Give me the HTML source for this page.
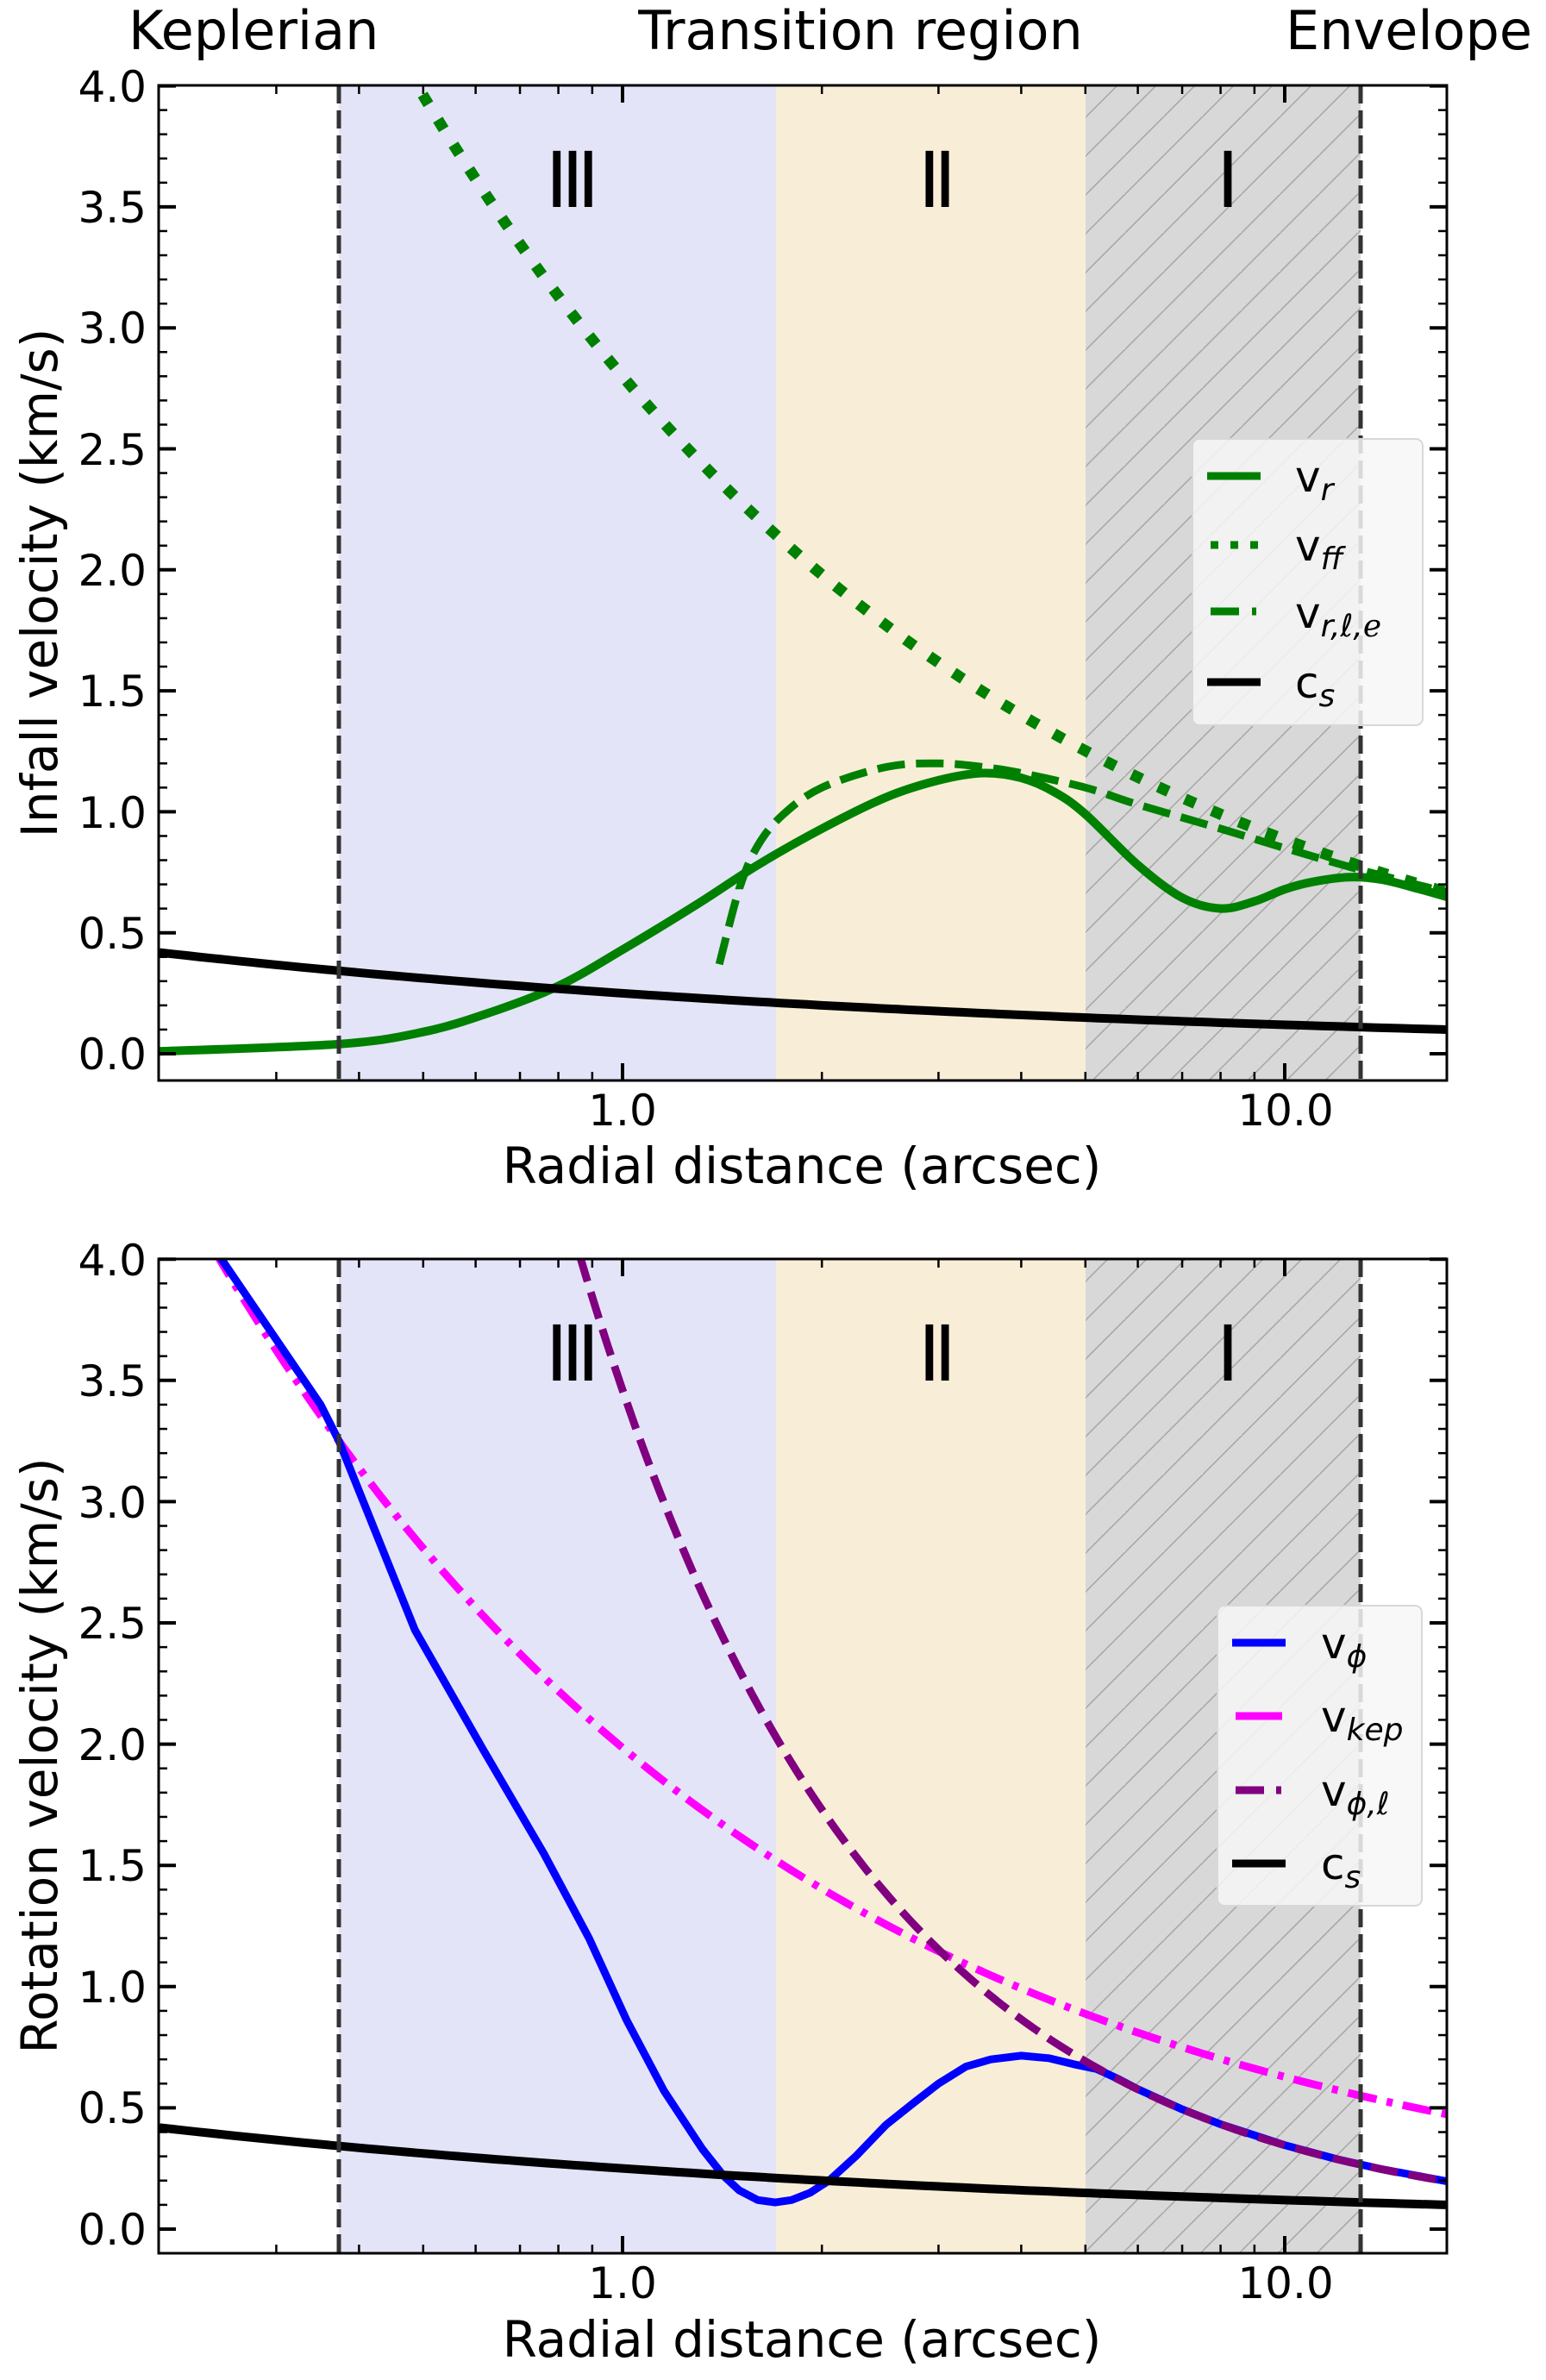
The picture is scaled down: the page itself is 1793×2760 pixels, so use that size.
<!DOCTYPE html>
<html><head><meta charset="utf-8">
<style>
html,body{margin:0;padding:0;background:#fff;}
svg{display:block;font-family:"DejaVu Sans","Liberation Sans",sans-serif;}
</style></head>
<body>
<svg id="s" width="1793" height="2760" viewBox="0 0 1793 2760" xmlns="http://www.w3.org/2000/svg">
<defs>
<clipPath id="c1"><rect x="184" y="99" width="1494" height="1154"/></clipPath>
<clipPath id="c2"><rect x="184" y="1460" width="1494" height="1153"/></clipPath>
<pattern id="hatch" patternUnits="userSpaceOnUse" width="45" height="45">
<path d="M-5,50 L50,-5 M-50,50 L5,-5 M40,95 L95,40" stroke="#a8a8a8" stroke-width="1.6"/>
</pattern>
</defs>
<g id="g1" clip-path="url(#c1)"></g>
<g id="g2" clip-path="url(#c2)"></g>
<g id="ticks"></g>

<g font-size="62" fill="#000">
<text x="149" y="57">Keplerian</text>
<text x="998" y="57" text-anchor="middle">Transition region</text>
<text x="1777" y="57" text-anchor="end">Envelope</text>
</g>

<g font-size="89" fill="#000" text-anchor="middle" letter-spacing="-8">
<text x="660" y="240">III</text><text x="1083" y="240">II</text><text x="1420" y="240">I</text>
<text x="660" y="1601">III</text><text x="1083" y="1601">II</text><text x="1420" y="1601">I</text>
</g>

<g font-size="50" fill="#000" text-anchor="end">
<text x="170" y="1240">0.0</text><text x="170" y="1100">0.5</text><text x="170" y="960">1.0</text>
<text x="170" y="819">1.5</text><text x="170" y="679">2.0</text><text x="170" y="539">2.5</text>
<text x="170" y="398">3.0</text><text x="170" y="258">3.5</text><text x="170" y="118">4.0</text>
<text x="170" y="2603">0.0</text><text x="170" y="2462">0.5</text><text x="170" y="2322">1.0</text>
<text x="170" y="2181">1.5</text><text x="170" y="2041">2.0</text><text x="170" y="1900">2.5</text>
<text x="170" y="1760">3.0</text><text x="170" y="1619">3.5</text><text x="170" y="1479">4.0</text>
</g>
<g font-size="50" fill="#000" text-anchor="middle">
<text x="722" y="1305">1.0</text><text x="1491" y="1305">10.0</text>
<text x="722" y="2665">1.0</text><text x="1491" y="2665">10.0</text>
</g>
<g font-size="58" fill="#000" text-anchor="middle">
<text x="930" y="1372">Radial distance (arcsec)</text>
<text x="930" y="2733">Radial distance (arcsec)</text>
<text transform="translate(66,676) rotate(-90)">Infall velocity (km/s)</text>
<text transform="translate(66,2036) rotate(-90)">Rotation velocity (km/s)</text>
</g>

<g>
<rect x="1383" y="509" width="267" height="332" rx="8" fill="#f7f7f7" fill-opacity="0.85" stroke="#d8d8d8" stroke-width="2"/>
<line x1="1400" y1="552" x2="1462" y2="552" stroke="#008000" stroke-width="9"/>
<line x1="1404" y1="632" x2="1462" y2="632" stroke="#008000" stroke-width="9" stroke-dasharray="9 14"/>
<line x1="1404" y1="709" x2="1457" y2="709" stroke="#008000" stroke-width="9" stroke-dasharray="33 15 6 100"/>
<line x1="1400" y1="791" x2="1462" y2="791" stroke="#000" stroke-width="9"/>
<g font-size="50" fill="#000">
<text x="1502" y="570">v<tspan font-size="36" font-style="italic" dy="10">r</tspan></text>
<text x="1502" y="650">v<tspan font-size="36" font-style="italic" dy="10">ff</tspan></text>
<text x="1502" y="728">v<tspan font-size="36" font-style="italic" dy="10">r,ℓ,ℯ</tspan></text>
<text x="1502" y="809">c<tspan font-size="36" font-style="italic" dy="10">s</tspan></text>
</g>
</g>
<g>
<rect x="1412" y="1862" width="237" height="348" rx="8" fill="#f7f7f7" fill-opacity="0.85" stroke="#d8d8d8" stroke-width="2"/>
<line x1="1429" y1="1905" x2="1491" y2="1905" stroke="#0000ff" stroke-width="9"/>
<line x1="1433" y1="1990" x2="1487" y2="1990" stroke="#ff00ff" stroke-width="9"/>
<line x1="1433" y1="2076" x2="1487" y2="2076" stroke="#800080" stroke-width="9" stroke-dasharray="33 14 6 100"/>
<line x1="1429" y1="2161" x2="1491" y2="2161" stroke="#000" stroke-width="9"/>
<g font-size="50" fill="#000">
<text x="1532" y="1923">v<tspan font-size="36" font-style="italic" dy="10">ϕ</tspan></text>
<text x="1532" y="2008">v<tspan font-size="36" font-style="italic" dy="10">kep</tspan></text>
<text x="1532" y="2094">v<tspan font-size="36" font-style="italic" dy="10">ϕ,ℓ</tspan></text>
<text x="1532" y="2179">c<tspan font-size="36" font-style="italic" dy="10">s</tspan></text>
</g>
</g>
</svg>
<script>
(function(){
var NS="http://www.w3.org/2000/svg";
function add(p,t,a){var e=document.createElementNS(NS,t);for(var k in a)e.setAttribute(k,a[k]);p.appendChild(e);return e;}
function X(r){return 722+768*Math.log10(r);}
var P=[{g:document.getElementById('g1'),y0:1222,k:280.6,top:99,bot:1253},
       {g:document.getElementById('g2'),y0:2585,k:281.2,top:1460,bot:2613}];
function Y(p,v){return p.y0-p.k*v;}
function fn(p,f,r0,r1,n){var s='';for(var i=0;i<=n;i++){var lr=Math.log10(r0)+(Math.log10(r1)-Math.log10(r0))*i/n;var r=Math.pow(10,lr);s+=(i?'L':'M')+X(r).toFixed(1)+','+Y(p,f(r)).toFixed(1);}return s;}
function lin(p,pts){return pts.map(function(a,i){return (i?'L':'M')+X(a[0]).toFixed(1)+','+Y(p,a[1]).toFixed(1);}).join('');}
function spl(p,pts){var q=pts.map(function(a){return [X(a[0]),Y(p,a[1])];});
 var s='M'+q[0][0].toFixed(1)+','+q[0][1].toFixed(1);
 for(var i=0;i<q.length-1;i++){var a=q[i-1]||q[i],b=q[i],c=q[i+1],d=q[i+2]||c;
  var c1=[b[0]+(c[0]-a[0])/6,b[1]+(c[1]-a[1])/6],c2=[c[0]-(d[0]-b[0])/6,c[1]-(d[1]-b[1])/6];
  s+='C'+c1[0].toFixed(1)+','+c1[1].toFixed(1)+' '+c2[0].toFixed(1)+','+c2[1].toFixed(1)+' '+c[0].toFixed(1)+','+c[1].toFixed(1);}
 return s;}
P.forEach(function(p,idx){
 var g=p.g,h=p.bot-p.top;
 add(g,'rect',{x:393,y:p.top,width:507,height:h,fill:'#e4e4f8'});
 add(g,'rect',{x:900,y:p.top,width:359,height:h,fill:'#f8eed8'});
 add(g,'rect',{x:1259,y:p.top,width:319,height:h,fill:'#d8d8d8'});
 add(g,'rect',{x:1259,y:p.top,width:319,height:h,fill:'url(#hatch)'});
 var cs=function(r){return 0.25*Math.pow(r,-0.32);};
 if(idx==0){
  add(g,'path',{d:fn(p,function(r){return 2.80/Math.sqrt(r);},0.2,18,200),fill:'none',stroke:'#008000','stroke-width':13,'stroke-dasharray':'13 21'});
  add(g,'path',{d:spl(p,[[1.40,0.37],[1.5,0.68],[1.6,0.86],[1.75,0.99],[2.0,1.1],[2.5,1.185],[3.0,1.2],[3.5,1.185],[4.0,1.16],[5.0,1.10],[6.0,1.03],[8.0,0.93],[10,0.85],[13,0.76],[18,0.66]]),fill:'none',stroke:'#008000','stroke-width':9,'stroke-dasharray':'32 13'});
  add(g,'path',{d:spl(p,[[0.2,0.01],[0.373,0.04],[0.5,0.09],[0.63,0.17],[0.8,0.28],[1.0,0.43],[1.3,0.62],[1.6,0.78],[2.0,0.93],[2.5,1.06],[3.0,1.13],[3.5,1.16],[4.0,1.14],[4.5,1.08],[5.0,0.99],[6.0,0.78],[7.0,0.645],[8.0,0.60],[9.0,0.63],[10,0.68],[11,0.71],[12.5,0.73],[14,0.72],[16,0.68],[18,0.64]]),fill:'none',stroke:'#008000','stroke-width':10});
 } else {
  add(g,'path',{d:fn(p,function(r){return 1.985/Math.sqrt(r);},0.2,18,200),fill:'none',stroke:'#ff00ff','stroke-width':9,'stroke-dasharray':'34 12 7 12'});
  add(g,'path',{d:lin(p,[[0.22,4.4],[0.248,4.0],[0.35,3.4],[0.373,3.25],[0.486,2.47],[0.615,1.98],[0.76,1.55],[0.89,1.2],[1.015,0.86],[1.155,0.57],[1.32,0.33],[1.42,0.22],[1.5,0.16],[1.6,0.12],[1.7,0.11],[1.8,0.12],[1.92,0.15],[2.05,0.2],[2.25,0.3],[2.5,0.43],[2.75,0.52],[3.0,0.6],[3.3,0.67],[3.6,0.70],[4.0,0.715],[4.4,0.705],[4.8,0.68],[5.2,0.66],[5.6,0.62],[6.0,0.577],[7,0.494],[8,0.4325],[10,0.346],[12,0.288],[14,0.247],[18,0.192]]),fill:'none',stroke:'#0000ff','stroke-width':9,'stroke-linejoin':'round'});
  add(g,'path',{d:fn(p,function(r){return 3.46/r;},0.8,18,200),fill:'none',stroke:'#800080','stroke-width':9,'stroke-dasharray':'32 13'});
 }
 add(g,'path',{d:fn(p,cs,0.2,18,100),fill:'none',stroke:'#000','stroke-width':10});
 [393,1578].forEach(function(x){add(g,'line',{x1:x,y1:p.top,x2:x,y2:p.bot,stroke:'#333','stroke-width':5,'stroke-dasharray':'21 8'});});
 var T=document.getElementById('ticks');
 for(var i=0;i<=40;i++){var y=Y(p,i/10);if(y<p.top-1||y>p.bot)continue;var L=(i%5==0)?20:10,w=(i%5==0)?4:2.5;
  add(T,'line',{x1:184,y1:y,x2:184+L,y2:y,stroke:'#000','stroke-width':w});
  add(T,'line',{x1:1678,y1:y,x2:1678-L,y2:y,stroke:'#000','stroke-width':w});}
 var xs=[0.3,0.4,0.5,0.6,0.7,0.8,0.9,2,3,4,5,6,7,8,9];
 xs.forEach(function(r){var x=X(r);add(T,'line',{x1:x,y1:p.bot,x2:x,y2:p.bot-10,stroke:'#000','stroke-width':2.5});add(T,'line',{x1:x,y1:p.top,x2:x,y2:p.top+10,stroke:'#000','stroke-width':2.5});});
 [1,10].forEach(function(r){var x=X(r);add(T,'line',{x1:x,y1:p.bot,x2:x,y2:p.bot-20,stroke:'#000','stroke-width':4});add(T,'line',{x1:x,y1:p.top,x2:x,y2:p.top+20,stroke:'#000','stroke-width':4});});
 add(T,'rect',{x:184,y:p.top,width:1494,height:p.bot-p.top,fill:'none',stroke:'#000','stroke-width':3});
});
})();
</script>
</body></html>
